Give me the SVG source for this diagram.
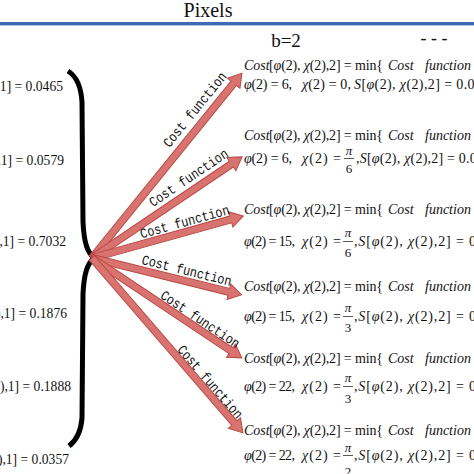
<svg xmlns="http://www.w3.org/2000/svg" width="474" height="474" viewBox="0 0 474 474">
<style>
.t{font-family:"Liberation Serif","Times New Roman",serif;font-size:14px;fill:#111}
.i{font-style:italic}
.fr{font-family:"Liberation Serif","Times New Roman",serif;font-size:13px;fill:#111;text-anchor:middle}
.bar{stroke:#111;stroke-width:0.7}
.arr{fill:#d9736f;stroke:#b84a45;stroke-width:1}
.lbl{font-family:"Liberation Mono","Courier New",monospace;font-size:14px;fill:#111;text-anchor:middle}
.hd{font-family:"Liberation Serif","Times New Roman",serif;font-size:20px;fill:#111}
.lv{font-family:"Liberation Serif","Times New Roman",serif;font-size:13.6px;fill:#111;text-anchor:end}
</style>
<rect width="474" height="474" fill="#fff"/>
<g id="header">
<text class="hd" x="208" y="17" text-anchor="middle">Pixels</text>
<rect x="0" y="22" width="474" height="3.4" fill="#3d6bb3"/>
<text class="hd" x="286" y="47" text-anchor="middle" style="font-size:19px">b=2</text>
<text class="hd" x="434" y="44" text-anchor="middle" style="font-size:18px">- - -</text>
</g>
<g id="left-values">
<text class="lv" x="63" y="91">1] = 0.0465</text>
<text class="lv" x="64" y="165">,1] = 0.0579</text>
<text class="lv" x="66" y="246">),1] = 0.7032</text>
<text class="lv" x="67" y="318">),1] = 0.1876</text>
<text class="lv" x="71" y="391">),1] = 0.1888</text>
<text class="lv" x="69" y="464">),1] = 0.0357</text>
</g>
<g id="brace">
<path d="M68,71 C76,76 81,86 82,102 L83,222 C84,242 87,252 94,258 C87,264 84,274 83,294 L82,418 C81,432 77,440 69,446" fill="none" stroke="#000" stroke-width="5"/>
</g>
<g id="connectors">
<g transform="translate(92,258) rotate(-50.96)">
<polygon class="arr" points="0,-3.5 225,-3.5 225,-8 238,0 225,8 225,3.5 0,3.5"/>
<text class="lbl" x="180" y="-9" textLength="92" lengthAdjust="spacingAndGlyphs">Cost function</text>
</g>
<g transform="translate(92,258) rotate(-33.96)">
<polygon class="arr" points="0,-3.5 168,-3.5 168,-8 181,0 168,8 168,3.5 0,3.5"/>
<text class="lbl" x="125" y="-8" textLength="92" lengthAdjust="spacingAndGlyphs">Cost function</text>
</g>
<g transform="translate(92,258) rotate(-15.54)">
<polygon class="arr" points="0,-3.5 144,-3.5 144,-8 157,0 144,8 144,3.5 0,3.5"/>
<text class="lbl" x="99" y="-5.5" textLength="92" lengthAdjust="spacingAndGlyphs">Cost function</text>
</g>
<g transform="translate(92,258) rotate(13.86)">
<polygon class="arr" points="0,-3.5 141,-3.5 141,-8 154,0 141,8 141,3.5 0,3.5"/>
<text class="lbl" x="95" y="-6" textLength="92" lengthAdjust="spacingAndGlyphs">Cost function</text>
</g>
<g transform="translate(92,258) rotate(33.69)">
<polygon class="arr" points="0,-3.5 167,-3.5 167,-8 180,0 167,8 167,3.5 0,3.5"/>
<text class="lbl" x="124" y="-4.5" textLength="92" lengthAdjust="spacingAndGlyphs">Cost function</text>
</g>
<g transform="translate(92,258) rotate(49.21)">
<polygon class="arr" points="0,-3.5 218,-3.5 218,-8 231,0 218,8 218,3.5 0,3.5"/>
<text class="lbl" x="171" y="-4" textLength="92" lengthAdjust="spacingAndGlyphs">Cost function</text>
</g>
</g>
<defs>
<g id="lineA">
<text class="t i" x="244" y="0">Cost</text>
<text class="t" x="269" y="0" textLength="114">[<tspan class="i">φ</tspan>(2), <tspan class="i">χ</tspan>(2),2] = min{</text>
<text class="t i" x="388" y="0">Cost</text>
<text class="t i" x="425" y="0">function</text>
</g>
</defs>
<g id="block1">
<use href="#lineA" y="70"/>
<text class="t" x="244" y="89" textLength="48"><tspan class="i">φ</tspan>(2) = 6,</text>
<text class="t" x="302" y="89" textLength="49"><tspan class="i">χ</tspan>(2) = 0,</text>
<text class="t" x="354" y="89" textLength="128"><tspan class="i">S</tspan>[<tspan class="i">φ</tspan>(2), <tspan class="i">χ</tspan>(2),2] = 0.04</text>
</g>
<g id="block2">
<use href="#lineA" y="140"/>
<text class="t" x="244" y="163" textLength="48"><tspan class="i">φ</tspan>(2) = 6,</text>
<text class="t" x="302" y="163" textLength="39"><tspan class="i">χ</tspan>(2) =</text>
<text class="t" x="356" y="163" textLength="128">,<tspan class="i">S</tspan>[<tspan class="i">φ</tspan>(2), <tspan class="i">χ</tspan>(2),2] = 0.06</text>
<text class="fr i" x="349" y="155">π</text><line class="bar" x1="344" y1="158.5" x2="354" y2="158.5"/><text class="fr" x="349" y="173">6</text>
</g>
<g id="block3">
<use href="#lineA" y="214"/>
<text class="t" x="244" y="246" textLength="51"><tspan class="i">φ</tspan>(2) = 15,</text>
<text class="t" x="302" y="246" textLength="39"><tspan class="i">χ</tspan>(2) =</text>
<text class="t" x="354" y="246" textLength="122">,<tspan class="i">S</tspan>[<tspan class="i">φ</tspan>(2), <tspan class="i">χ</tspan>(2),2] = 0</text>
<text class="fr i" x="348" y="237">π</text><line class="bar" x1="343" y1="241.5" x2="353" y2="241.5"/><text class="fr" x="348" y="257">6</text>
</g>
<g id="block4">
<use href="#lineA" y="291"/>
<text class="t" x="244" y="321" textLength="51"><tspan class="i">φ</tspan>(2) = 15,</text>
<text class="t" x="302" y="321" textLength="39"><tspan class="i">χ</tspan>(2) =</text>
<text class="t" x="354" y="321" textLength="122">,<tspan class="i">S</tspan>[<tspan class="i">φ</tspan>(2), <tspan class="i">χ</tspan>(2),2] = 0</text>
<text class="fr i" x="348" y="312">π</text><line class="bar" x1="343" y1="316.5" x2="353" y2="316.5"/><text class="fr" x="348" y="332">3</text>
</g>
<g id="block5">
<use href="#lineA" y="363"/>
<text class="t" x="244" y="391" textLength="51"><tspan class="i">φ</tspan>(2) = 22,</text>
<text class="t" x="302" y="391" textLength="39"><tspan class="i">χ</tspan>(2) =</text>
<text class="t" x="354" y="391" textLength="122">,<tspan class="i">S</tspan>[<tspan class="i">φ</tspan>(2), <tspan class="i">χ</tspan>(2),2] = 0</text>
<text class="fr i" x="348" y="382">π</text><line class="bar" x1="343" y1="386.5" x2="353" y2="386.5"/><text class="fr" x="348" y="403">3</text>
</g>
<g id="block6">
<use href="#lineA" y="435"/>
<text class="t" x="244" y="460" textLength="51"><tspan class="i">φ</tspan>(2) = 22,</text>
<text class="t" x="302" y="460" textLength="39"><tspan class="i">χ</tspan>(2) =</text>
<text class="t" x="354" y="460" textLength="122">,<tspan class="i">S</tspan>[<tspan class="i">φ</tspan>(2), <tspan class="i">χ</tspan>(2),2] = 0</text>
<text class="fr i" x="348" y="452">π</text><line class="bar" x1="343" y1="455.5" x2="353" y2="455.5"/><text class="fr" x="348" y="476">2</text>
</g>
</svg>
